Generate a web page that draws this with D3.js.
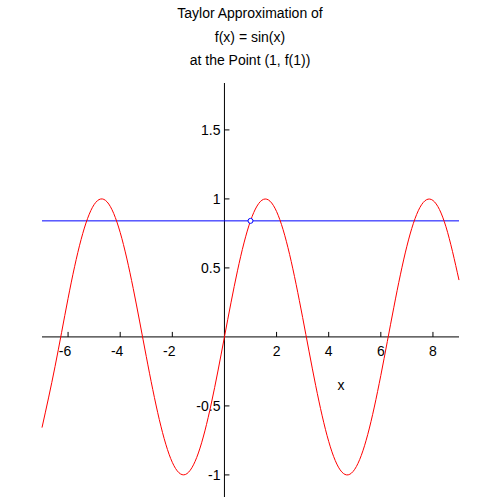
<!DOCTYPE html>
<html><head><meta charset="utf-8">
<script src="https://cdn.jsdelivr.net/npm/d3@7"></script>
<style>body{margin:0;background:#fff}text{font-family:"Liberation Sans",Arial,sans-serif}</style>
</head><body><div id="chart"></div>
<script>
const xs = [-7,-6.5,-6,-5.5,-5,-4.5,-4,-3.5,-3,-2.5,-2,-1.5,-1,-0.5,0,0.5,1,1.5,2,2.5,3,3.5,4,4.5,5,5.5,6,6.5,7,7.5,8,8.5,9];
const ys = [-0.657,-0.215,0.279,0.706,0.959,0.978,0.757,0.351,-0.141,-0.598,-0.909,-0.997,-0.841,-0.479,0,0.479,0.841,0.997,0.909,0.598,0.141,-0.351,-0.757,-0.978,-0.959,-0.706,-0.279,0.215,0.657,0.938,0.989,0.798,0.412];
const tangentY = 0.841;
const point = [1, 0.841];
const xTicks = [-6,-4,-2,2,4,6,8];
const yTicks = [-1,-0.5,0.5,1,1.5];
const titles = ["Taylor Approximation of","f(x) = sin(x)","at the Point (1, f(1))"];

const svg = d3.select("#chart").append("svg").attr("width",502).attr("height",502);
const x = d3.scaleLinear().domain([-7,9]).range([42,459]);
const y = d3.scaleLinear().domain([-1.16,1.84]).range([497,83]);

svg.selectAll(".title").data(titles).enter().append("text")
  .attr("x",250).attr("y",(d,i)=>18+i*23.5).attr("text-anchor","middle")
  .attr("font-size",14).text(d=>d);

// axes
svg.append("line").attr("x1",x(-7)).attr("x2",x(9)).attr("y1",y(0)).attr("y2",y(0)).attr("stroke","#000");
svg.append("line").attr("x1",x(0)).attr("x2",x(0)).attr("y1",83).attr("y2",497).attr("stroke","#000");
svg.selectAll(".xt").data(xTicks).enter().append("line")
  .attr("x1",d=>x(d)).attr("x2",d=>x(d)).attr("y1",y(0)).attr("y2",y(0)-5).attr("stroke","#000");
svg.selectAll(".xl").data(xTicks).enter().append("text")
  .attr("x",d=>x(d)+(d<0?-3:0)).attr("y",y(0)+19).attr("text-anchor","middle")
  .attr("font-size",14).text(d=>d);
svg.selectAll(".yt").data(yTicks).enter().append("line")
  .attr("x1",x(0)).attr("x2",x(0)+5).attr("y1",d=>y(d)).attr("y2",d=>y(d)).attr("stroke","#000");
svg.selectAll(".yl").data(yTicks).enter().append("text")
  .attr("x",x(0)-4).attr("y",d=>y(d)+5).attr("text-anchor","end")
  .attr("font-size",14).text(d=>d);
svg.append("text").attr("x",341).attr("y",390).attr("text-anchor","middle").attr("font-size",14).text("x");

// tangent line
svg.append("line").attr("x1",x(-7)).attr("x2",x(9)).attr("y1",y(tangentY)).attr("y2",y(tangentY)).attr("stroke","#0000ff");

// sine curve
const line = d3.line().x((d,i)=>x(xs[i])).y(d=>y(d)).curve(d3.curveNatural);
svg.append("path").datum(ys).attr("d",line).attr("fill","none").attr("stroke","#ff0000");

svg.append("circle").attr("cx",x(point[0])).attr("cy",y(point[1])).attr("r",2.5)
  .attr("fill","#fff").attr("stroke","#0000ff");
</script></body></html>
